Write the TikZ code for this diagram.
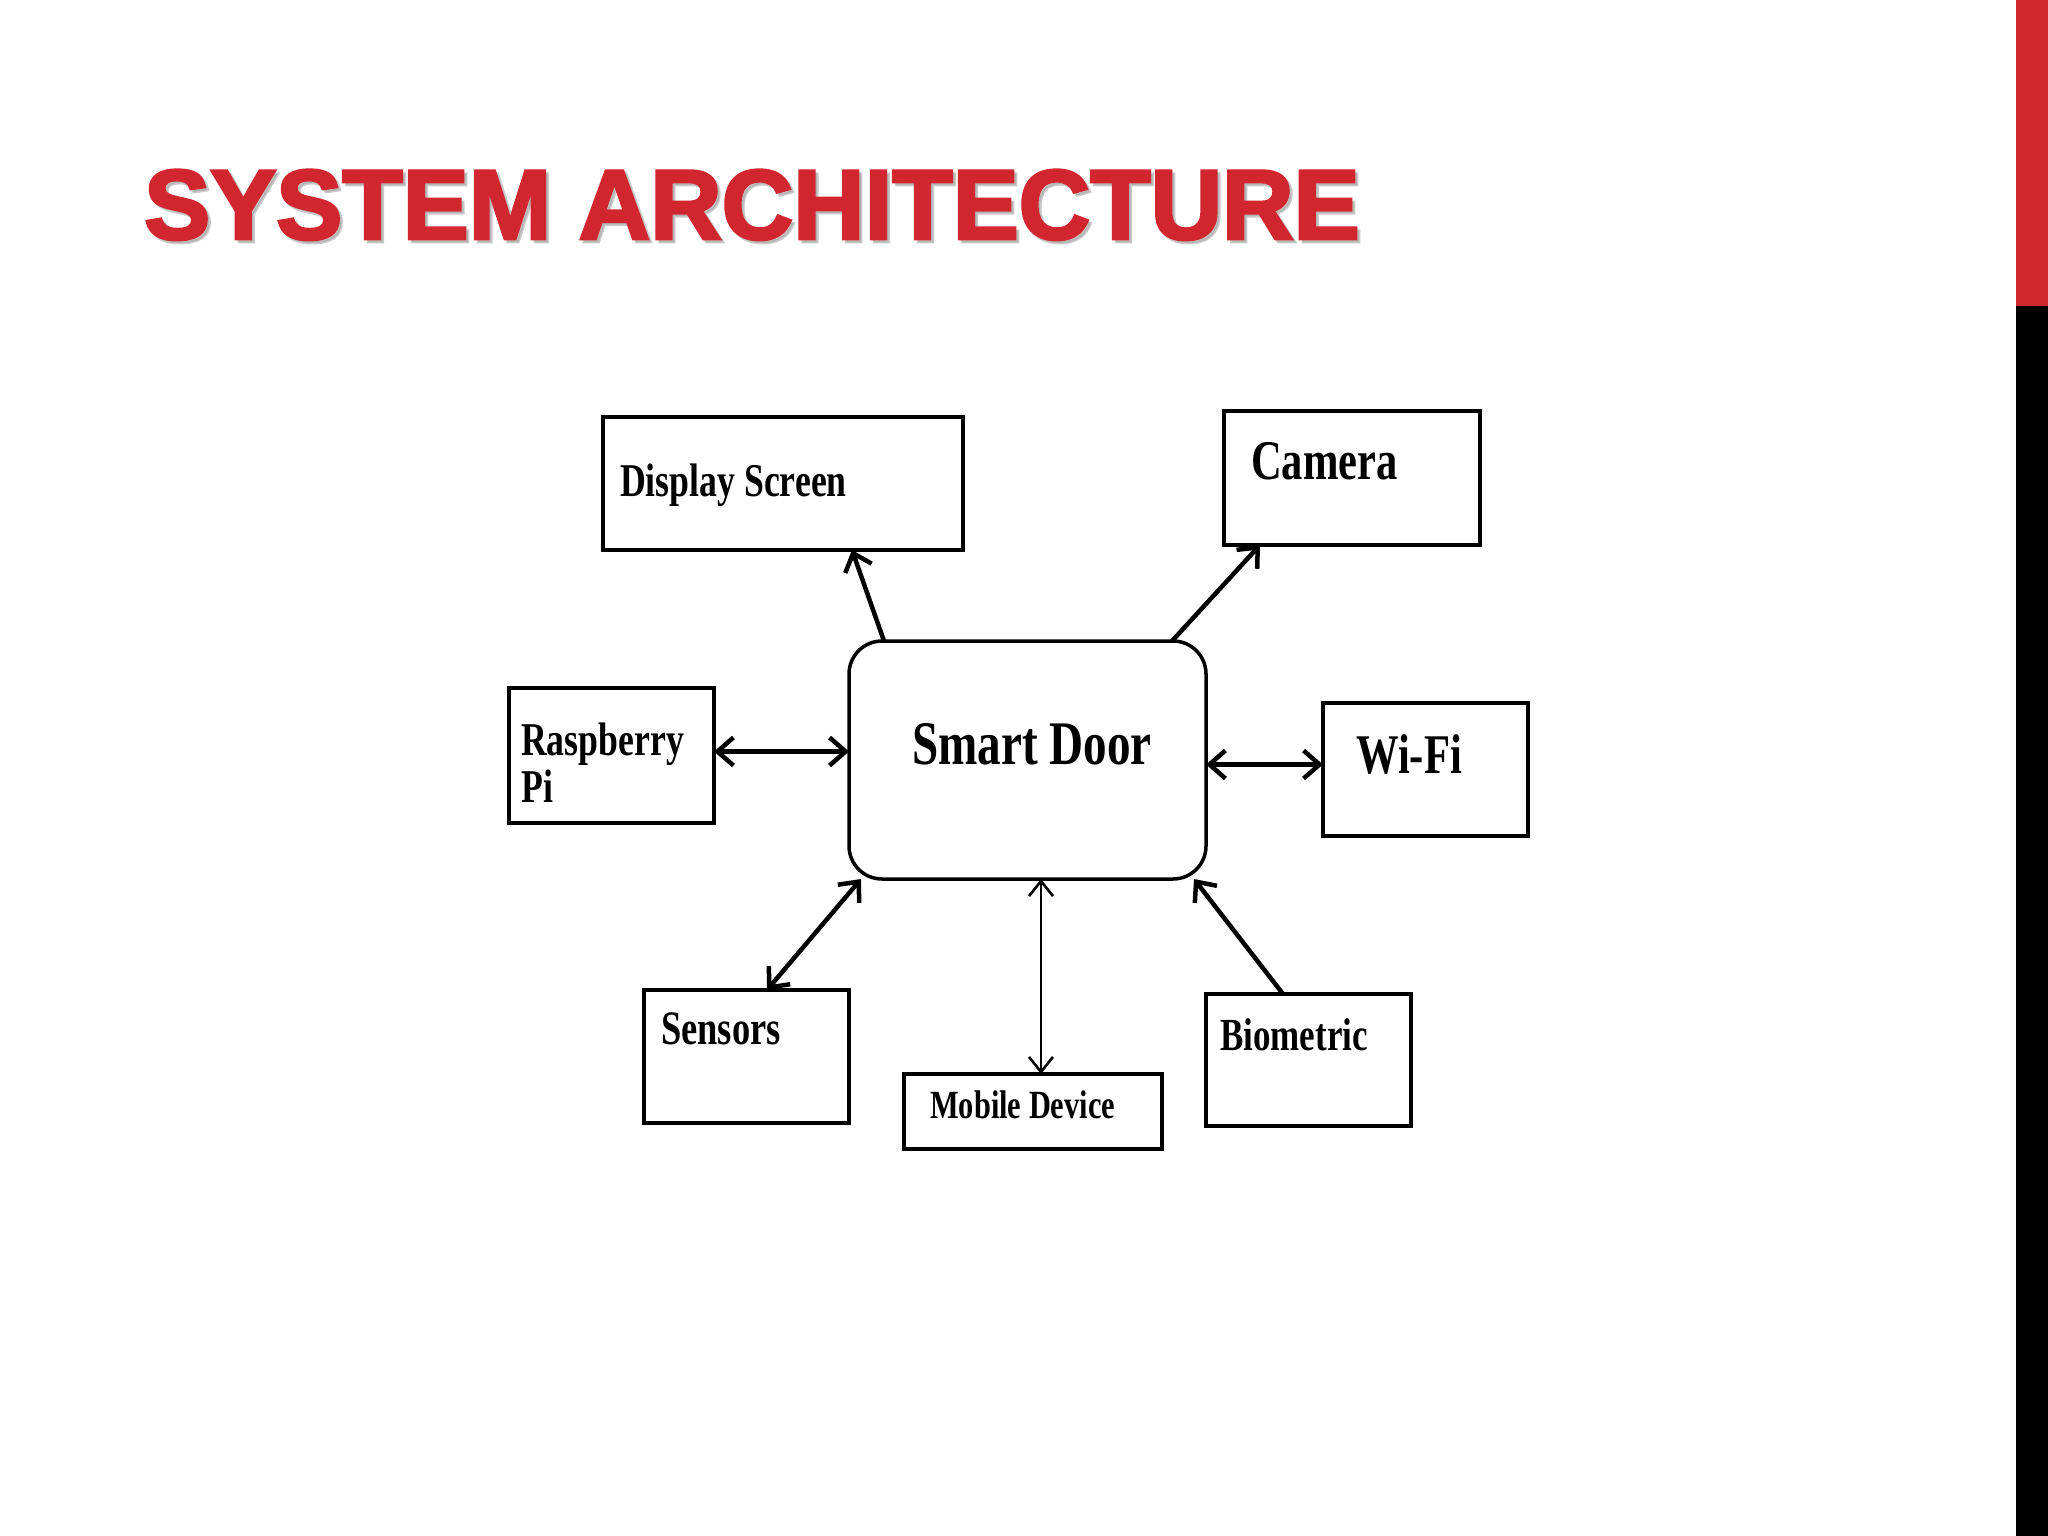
\documentclass[tikz,border=0pt]{standalone}
\usepackage{fontspec}
\setmainfont{Liberation Serif}
\newfontfamily\titlefont{Liberation Sans Bold}[FakeBold=3]
\newfontfamily\dfont{Liberation Serif Bold}[FakeStretch=0.76]
\usetikzlibrary{arrows.meta}
\definecolor{titlered}{HTML}{D1262E}
\definecolor{barred}{HTML}{D2292F}
\tikzset{
  box/.style={draw=black, line width=3.8pt, inner sep=0pt, outer sep=0pt},
  txt/.style={anchor=base west, inner sep=0pt, text=black},
  barb/.style={Straight Barb[length=16pt,width=28pt]},
  arr/.style={line width=4.5pt, -{Straight Barb[length=16pt,width=28pt]}},
  darr/.style={line width=4.5pt, {Straight Barb[length=16pt,width=28pt]}-{Straight Barb[length=16pt,width=28pt]}},
  thinarr/.style={line width=2.6pt, {Straight Barb[length=15pt,width=24pt]}-{Straight Barb[length=15pt,width=24pt]}},
}
\begin{document}
\begin{tikzpicture}[x=1pt,y=-1pt]
\useasboundingbox (0,0) rectangle (2048,1536);
\fill[white] (0,0) rectangle (2048,1536);
% right bar
\fill[barred] (2016,0) rectangle (2048,306);
\fill[black] (2016,306) rectangle (2048,1536);
% title
\node[txt, text=black!35, opacity=0.6] (titleshadow) at (147,242) {\titlefont\fontsize{99}{100}\selectfont SYSTEM ARCHITECTURE};
\node[txt, text=titlered] (title) at (144,239) {\titlefont\fontsize{99}{100}\selectfont SYSTEM ARCHITECTURE};
% boxes
\node[box, minimum width=360pt, minimum height=133pt] (ds) at (783,483.5) {};
\node[box, minimum width=256pt, minimum height=134pt] (cam) at (1352,478) {};
\node[box, minimum width=205pt, minimum height=135pt] (rp) at (611.5,755.5) {};
\node[box, line width=3.5pt, rounded corners=33pt, minimum width=357pt, minimum height=238pt] (sd) at (1027.5,760) {};
\node[box, minimum width=205pt, minimum height=133pt] (wf) at (1425.5,769.5) {};
\node[box, minimum width=205pt, minimum height=133pt] (sen) at (746.5,1056.5) {};
\node[box, minimum width=258pt, minimum height=75pt] (mob) at (1033,1111.5) {};
\node[box, minimum width=205pt, minimum height=132pt] (bio) at (1308.5,1060) {};
% texts
\node[txt] (dsT) at (620,496) {\dfont\fontsize{47}{50}\selectfont Display Screen};
\node[txt] (camT) at (1251,479) {\dfont\fontsize{56}{60}\selectfont Camera};
\node[txt] (rpT) at (521,755) {\dfont\fontsize{47}{50}\selectfont Raspberry};
\node[txt] (rpT2) at (521,802) {\dfont\fontsize{47}{50}\selectfont Pi};
\node[txt] (sdT) at (912,764) {\dfont\fontsize{62}{66}\selectfont Smart Door};
\node[txt] (wfT) at (1356,773) {\dfont\fontsize{56}{60}\selectfont Wi-Fi};
\node[txt] (senT) at (661,1044) {\dfont\fontsize{48}{50}\selectfont Sensors};
\node[txt] (mobT) at (930,1118) {\dfont\fontsize{40}{44}\selectfont Mobile Device};
\node[txt] (bioT) at (1220,1050) {\dfont\fontsize{46}{50}\selectfont Biometric};
% connectors
\draw[arr] ([xshift=35pt]sd.north west) -- ([xshift=249pt]ds.south west);
\draw[arr] ([xshift=323pt]sd.north west) -- ([xshift=36pt]cam.south west);
\draw[darr] ([yshift=4pt]rp.east) -- ([yshift=4pt]rp.east -| sd.west);
\draw[darr] ([yshift=5pt]wf.west -| sd.east) -- ([yshift=5pt]wf.west);
\draw[darr] ([xshift=12pt]sd.south west) -- ([xshift=123pt]sen.north west);
\draw[thinarr] ([xshift=8pt]mob.north |- sd.south) -- ([xshift=8pt]mob.north);
\draw[arr] ([xshift=77pt]bio.north west) -- ([xshift=-12pt]sd.south east);
\end{tikzpicture}
\end{document}
